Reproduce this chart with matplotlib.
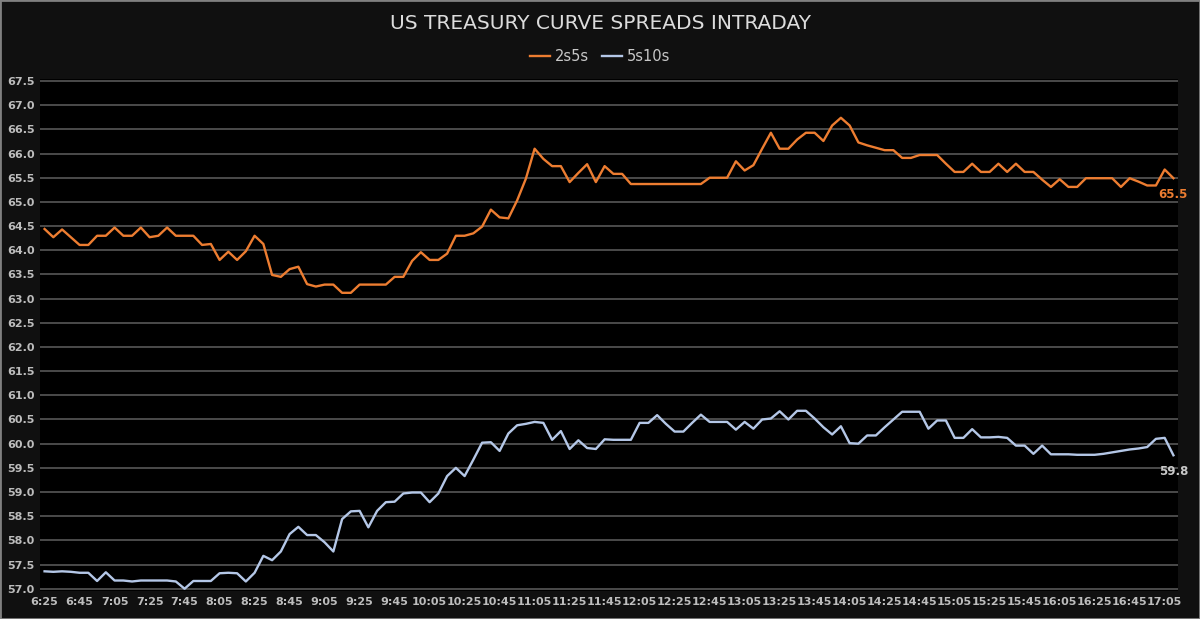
import matplotlib.pyplot as plt
import numpy as np
import pandas as pd

# horas cada 5 minutos desde 6:25
times = pd.date_range("2021-01-01 06:25", periods=130, freq="5min")
time_labels = [f"{t.hour}:{t.minute:02d}" for t in times]

# 2s5s (naranja)
s2s5s = [64.44, 64.27, 64.43, 64.27, 64.11, 64.11, 64.30, 64.30, 64.47, 64.30,
         64.30, 64.47, 64.27, 64.30, 64.47, 64.30, 64.30, 64.30, 64.11, 64.13,
         63.80, 63.97, 63.80, 63.98, 64.30, 64.13, 63.49, 63.45, 63.61, 63.66,
         63.30, 63.25, 63.29, 63.29, 63.12, 63.12, 63.29, 63.29, 63.29, 63.29,
         63.45, 63.45, 63.78, 63.96, 63.80, 63.80, 63.93, 64.30, 64.30, 64.35,
         64.49, 64.84, 64.68, 64.66, 65.03, 65.48, 66.10, 65.89, 65.74, 65.74,
         65.41, 65.60, 65.78, 65.41, 65.74, 65.58, 65.58, 65.37, 65.37, 65.37,
         65.37, 65.37, 65.37, 65.37, 65.37, 65.37, 65.50, 65.50, 65.50, 65.84,
         65.65, 65.76, 66.10, 66.43, 66.10, 66.10, 66.29, 66.43, 66.43, 66.26,
         66.58, 66.74, 66.58, 66.23, 66.17, 66.12, 66.07, 66.07, 65.91, 65.91,
         65.97, 65.97, 65.97, 65.79, 65.62, 65.62, 65.79, 65.62, 65.62, 65.79,
         65.62, 65.79, 65.62, 65.62, 65.46, 65.31, 65.47, 65.31, 65.31, 65.49,
         65.49, 65.49, 65.49, 65.31, 65.49, 65.42, 65.34, 65.34, 65.67, 65.49]

# 5s10s (azul claro)
s5s10s = [57.36, 57.35, 57.36, 57.35, 57.33, 57.33, 57.16, 57.34, 57.17, 57.17,
          57.15, 57.17, 57.17, 57.17, 57.17, 57.15, 57.00, 57.16, 57.16, 57.16,
          57.32, 57.33, 57.32, 57.15, 57.33, 57.68, 57.59, 57.77, 58.13, 58.28,
          58.11, 58.11, 57.96, 57.77, 58.44, 58.60, 58.61, 58.27, 58.61, 58.79,
          58.80, 58.97, 58.99, 58.99, 58.79, 58.97, 59.33, 59.50, 59.33, 59.67,
          60.02, 60.03, 59.85, 60.21, 60.38, 60.41, 60.45, 60.43, 60.08, 60.26,
          59.89, 60.07, 59.91, 59.89, 60.09, 60.08, 60.08, 60.08, 60.43, 60.43,
          60.59, 60.41, 60.25, 60.25, 60.43, 60.60, 60.45, 60.45, 60.45, 60.29,
          60.45, 60.31, 60.50, 60.52, 60.67, 60.50, 60.68, 60.68, 60.52, 60.34,
          60.19, 60.36, 60.01, 60.00, 60.17, 60.17, 60.34, 60.50, 60.66, 60.66,
          60.66, 60.31, 60.48, 60.48, 60.12, 60.12, 60.30, 60.13, 60.13, 60.14,
          60.12, 59.96, 59.96, 59.79, 59.96, 59.78, 59.78, 59.78, 59.77, 59.77,
          59.77, 59.79, 59.82, 59.85, 59.88, 59.90, 59.93, 60.10, 60.12, 59.76]

naranja = '#ED7D31'
azul = '#B4C7E7'

fig = plt.figure(figsize=(12, 6.19), dpi=100, facecolor='#101010')
ax = fig.add_axes([0.0335, 0.045, 0.948, 0.828])
ax.set_facecolor('black')

x = np.arange(len(times))
ax.plot(x, s2s5s, color=naranja, lw=1.7, label='2s5s')
ax.plot(x, s5s10s, color=azul, lw=1.7, label='5s10s')

# etiquetas del ultimo valor
ax.annotate(f"{s2s5s[-1]:.1f}", (x[-1], s2s5s[-1]), xytext=(0, -12), textcoords='offset points',
            ha='center', va='center', color=naranja, fontsize=8.5, fontweight='bold')
ax.annotate(f"{s5s10s[-1]:.1f}", (x[-1], s5s10s[-1]), xytext=(0, -12), textcoords='offset points',
            ha='center', va='center', color='#c8c8c8', fontsize=8.5, fontweight='bold')

ax.set_ylim(56.95, 67.55)
ax.set_xlim(-0.5, len(times) - 0.5)
ax.set_yticks(np.arange(57.0, 67.51, 0.5))
ax.set_yticklabels([f"{v:.1f}" for v in np.arange(57.0, 67.51, 0.5)])
ax.set_xticks(x[::4])
ax.set_xticklabels(time_labels[::4])
ax.tick_params(colors='#bdbdbd', labelsize=8, length=0, pad=4)
for lab in ax.get_xticklabels() + ax.get_yticklabels():
    lab.set_fontweight('bold')

ax.grid(axis='y', color='#505050', lw=1.3)
ax.set_axisbelow(True)
for s in ax.spines.values():
    s.set_visible(False)

fig.text(0.5, 0.962, "US TREASURY CURVE SPREADS INTRADAY", ha='center', va='center',
         color='#dcdcdc', fontsize=14.5)
fig.legend(loc='center', bbox_to_anchor=(0.5, 0.908), ncol=2, frameon=False,
           labelcolor='#c8c8c8', fontsize=10.5, handlelength=1.4, handletextpad=0.3,
           columnspacing=0.9)

# borde gris de la imagen
fig.patches.append(plt.Rectangle((0, 0), 1, 1, transform=fig.transFigure, fill=False,
                                 edgecolor='#808080', lw=2))

plt.savefig('out.png', dpi=100, facecolor=fig.get_facecolor())
